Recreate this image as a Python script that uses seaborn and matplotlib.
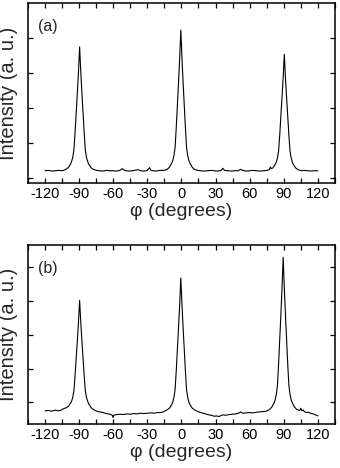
import matplotlib
matplotlib.use("Agg")
import matplotlib.pyplot as plt
from matplotlib.ticker import MultipleLocator, NullFormatter
import seaborn as sns

# Phi scans of the two samples: azimuth (degrees) and intensity (arb. units)
phi_a = [
    -120, -117, -114, -111, -108, -104.5, -101.5, -99.5, -97.5, -96.5, -95.5,
    -94.5, -93.5, -92.5, -91.5, -90.5, -89.5, -88.5, -87.5, -86.5, -85.5,
    -84.5, -83.5, -82.5, -81.5, -79.5, -77.5, -74.5,
    -72, -69, -66, -63, -60, -57, -54, -52, -51, -49, -46, -43, -40, -38,
    -36, -33, -30, -28, -27, -25, -22, -19,
    -15.5, -12.5, -10.5, -8.5, -7.5, -6.5, -5.5, -4.5, -3.5, -2.5, -1.5,
    -0.5, 0.5, 1.5, 2.5, 3.5, 4.5, 5.5, 6.5, 7.5, 9.5, 11.5, 14.5,
    17, 20, 23, 26, 29, 32, 35, 36.5, 38, 41, 44, 47, 50, 52, 54, 57, 60,
    63, 66, 69, 72,
    75.5, 77.5, 78.3, 79, 80.5, 82.5, 83.5, 84.5, 85.5, 86.5, 87.5, 88.5,
    89.5, 90.5, 91.5, 92.5, 93.5, 94.5, 95.5, 96.5, 97.5, 98.5, 100.5,
    102.5, 105.5,
    108, 111, 114, 117, 120,
]
int_a = [
    0.20, 0.21, 0.19, 0.20, 0.21, 0.20, 0.24, 0.29, 0.39, 0.47, 0.59,
    0.80, 1.30, 1.86, 2.43, 3.03, 3.74, 3.03, 2.43, 1.86, 1.30,
    0.80, 0.59, 0.47, 0.39, 0.29, 0.24, 0.21,
    0.20, 0.19, 0.21, 0.20, 0.20, 0.19, 0.21, 0.26, 0.23, 0.20, 0.19, 0.20,
    0.22, 0.23, 0.20, 0.19, 0.21, 0.29, 0.22, 0.20, 0.19, 0.21,
    0.21, 0.24, 0.30, 0.42, 0.50, 0.64, 0.88, 1.45, 2.09, 2.73, 3.42,
    4.22, 3.42, 2.73, 2.09, 1.45, 0.88, 0.64, 0.50, 0.42, 0.30, 0.24, 0.21,
    0.20, 0.19, 0.20, 0.21, 0.20, 0.19, 0.21, 0.27, 0.21, 0.20, 0.19, 0.20,
    0.20, 0.24, 0.21, 0.19, 0.20, 0.21, 0.20, 0.19, 0.20,
    0.21, 0.24, 0.31, 0.26, 0.28, 0.38, 0.45, 0.57, 0.77, 1.23, 1.77, 2.30,
    2.86, 3.53, 2.86, 2.30, 1.77, 1.23, 0.77, 0.57, 0.45, 0.38, 0.28,
    0.23, 0.20,
    0.21, 0.20, 0.19, 0.20, 0.20,
]

phi_b = [
    -120, -117, -114, -111, -108, -105,
    -104.5, -101.5, -99.5, -97.5, -96.5, -95.5, -94.5, -93.5, -92.5, -91.5,
    -90.5, -89.5, -88.5, -87.5, -86.5, -85.5, -84.5, -83.5, -82.5, -81.5,
    -79.5, -77.5, -74.5,
    -72, -69, -66, -63, -61, -60, -59.5, -57, -54, -51, -48, -45, -42, -39,
    -36, -33, -30, -27, -24, -21, -18,
    -15.5, -12.5, -10.5, -8.5, -7.5, -6.5, -5.5, -4.5, -3.5, -2.5, -1.5,
    -0.5, 0.5, 1.5, 2.5, 3.5, 4.5, 5.5, 6.5, 7.5, 9.5, 11.5, 14.5,
    17, 20, 23, 26, 29, 31, 33, 36, 39, 42, 45, 48, 51, 52, 54, 57, 60, 63,
    66, 69, 72,
    74.5, 77.5, 79.5, 81.5, 82.5, 83.5, 84.5, 85.5, 86.5, 87.5, 88.5,
    89.5, 90.5, 91.5, 92.5, 93.5, 94.5, 95.5, 96.5, 97.5, 99.5, 101.5,
    104, 105, 106, 107, 108, 110, 112, 114, 116, 118, 120,
]
int_b = [
    -0.25, -0.24, -0.26, -0.23, -0.25, -0.22,
    -0.20, -0.16, -0.12, -0.02, 0.04, 0.16, 0.35, 0.80, 1.32, 1.83,
    2.38, 3.03, 2.38, 1.83, 1.32, 0.80, 0.35, 0.16, 0.04, -0.04,
    -0.15, -0.21, -0.26,
    -0.28, -0.30, -0.33, -0.35, -0.37, -0.45, -0.38, -0.36, -0.35, -0.36,
    -0.34, -0.35, -0.33, -0.34, -0.32, -0.33, -0.32, -0.31, -0.32, -0.30,
    -0.30,
    -0.27, -0.22, -0.17, -0.06, 0.02, 0.16, 0.39, 0.95, 1.59, 2.22, 2.90,
    3.69, 2.90, 2.22, 1.59, 0.95, 0.39, 0.16, 0.02, -0.06, -0.17, -0.22,
    -0.27,
    -0.30, -0.33, -0.36, -0.38, -0.41, -0.40, -0.42, -0.37, -0.38, -0.36,
    -0.35, -0.34, -0.31, -0.28, -0.32, -0.31, -0.30, -0.31, -0.29, -0.28,
    -0.27,
    -0.26, -0.21, -0.14, -0.01, 0.08, 0.24, 0.52, 1.15, 1.88, 2.61, 3.39,
    4.30, 3.39, 2.61, 1.88, 1.15, 0.52, 0.24, 0.08, -0.01, -0.14, -0.21,
    -0.24, -0.17, -0.25, -0.22, -0.27, -0.30, -0.29, -0.33, -0.34, -0.37,
    -0.40,
]

panel_labels = ["(a)", "(b)"]
x_ticks = [-120, -90, -60, -30, 0, 30, 60, 90, 120]
y_ticks = [0, 1, 2, 3, 4]
y_limits = [(-0.15, 5.0), (-0.64, 4.66)]

sns.set_style("ticks")
plt.rcParams["font.family"] = ["Liberation Sans", "DejaVu Sans"]

fig = plt.figure(figsize=(3.4, 4.68), dpi=100)
ax_a = fig.add_axes([0.082, 0.609, 0.903, 0.385])
ax_b = fig.add_axes([0.082, 0.094, 0.903, 0.382])

for ax, phi, inten, lab, ylim in zip(
    [ax_a, ax_b], [phi_a, phi_b], [int_a, int_b], panel_labels, y_limits
):
    sns.lineplot(x=phi, y=inten, ax=ax, color="black", linewidth=0.8,
                 estimator=None)
    ax.set_xlim(-135, 135)
    ax.set_ylim(*ylim)
    ax.set_xticks(x_ticks)
    ax.set_xticklabels([str(t) for t in x_ticks], fontsize=10.5)
    ax.xaxis.set_minor_locator(MultipleLocator(15))
    ax.set_yticks(y_ticks)
    ax.yaxis.set_major_formatter(NullFormatter())
    ax.tick_params(which="both", direction="in", top=True, right=True,
                   length=3.5, width=0.9, colors="black", pad=3)
    for sp in ax.spines.values():
        sp.set_linewidth(1.1)
        sp.set_color("black")
    ax.set_xlabel("\u03c6 (degrees)", fontsize=14, labelpad=1)
    ax.set_ylabel("Intensity (a. u.)", fontsize=14.5, labelpad=4)
    ax.text(0.033, 0.87, lab, transform=ax.transAxes, fontsize=11.5,
            va="center", ha="left")

fig.savefig("out.png", dpi=100)
